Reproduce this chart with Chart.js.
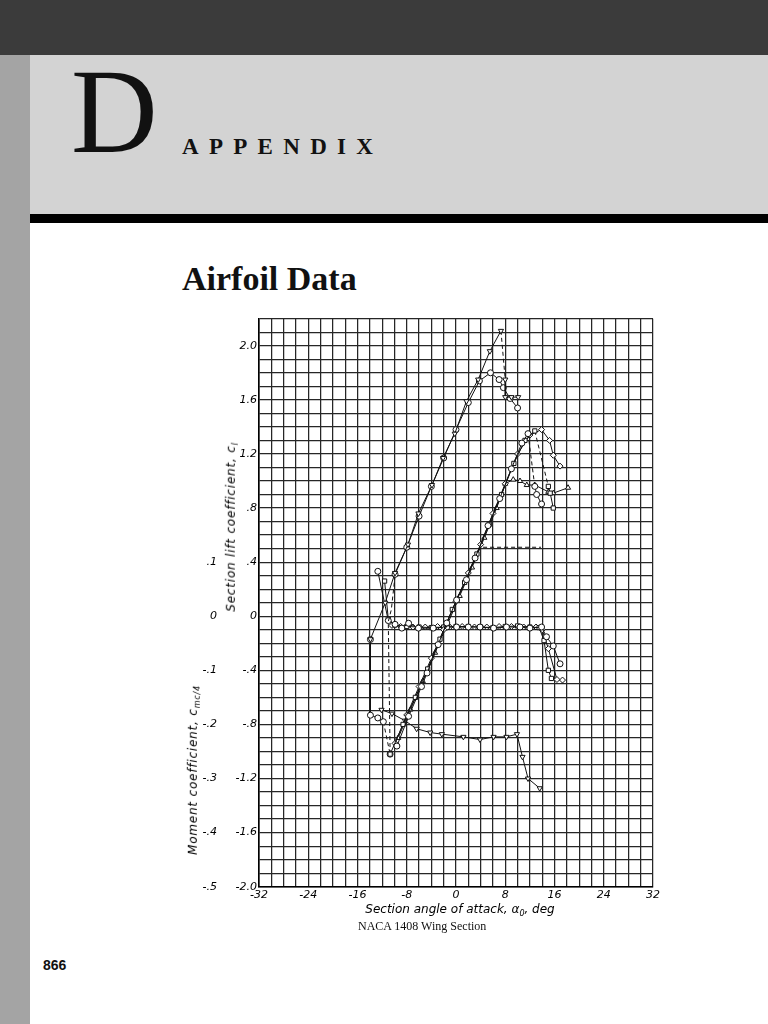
<!DOCTYPE html>
<html>
<head>
<meta charset="utf-8">
<script src="https://cdn.jsdelivr.net/npm/chart.js@4.4.0/dist/chart.umd.min.js"></script>
<style>
  body { margin: 0; width: 768px; height: 1024px; position: relative; overflow: hidden; background: #fff; }
  .abs { position: absolute; }
  .serif { font-family: "Liberation Serif", "DejaVu Serif", serif; color: #111; }
  .hand { font-family: "DejaVu Sans", sans-serif; font-style: italic; font-size: 12px; color: #000; white-space: nowrap; }
  .rot { transform: translate(-50%, -50%) rotate(-90deg); letter-spacing: 0.8px; }
  .ctr { transform: translate(-50%, -50%); }
  sub { font-size: 8px; }
</style>
</head>
<body>
<div class="abs" style="left:0;top:0;width:768px;height:55px;background:#3b3b3b"></div>
<div class="abs" style="left:0;top:55px;width:30px;height:969px;background:#a4a4a4"></div>
<div class="abs" style="left:30px;top:55px;width:738px;height:159px;background:#d3d3d3"></div>
<div class="abs" style="left:30px;top:214px;width:738px;height:9px;background:#000"></div>
<div class="abs serif" style="left:71px;top:52px;font-size:120px;line-height:120px">D</div>
<div class="abs serif" style="left:182px;top:135px;font-size:23px;line-height:23px;font-weight:bold;letter-spacing:10.3px">APPENDIX</div>
<div class="abs serif" style="left:182px;top:262px;font-size:34px;line-height:34px;font-weight:bold">Airfoil Data</div>

<div class="abs" style="left:180px;top:300px;width:500px;height:645px">
  <canvas id="chart"></canvas>
</div>

<div class="abs hand rot" style="left:232px;top:527px">Section lift coefficient, c<sub>l</sub></div>
<div class="abs hand rot" style="left:194px;top:770px">Moment coefficient, c<sub>mc/4</sub></div>
<div class="abs hand ctr" style="left:460px;top:910px">Section angle of attack, α<sub>0</sub>, deg</div>
<div class="abs serif" style="left:358px;top:920px;font-size:12px;line-height:12px">NACA 1408 Wing Section</div>
<div class="abs" style="left:43px;top:958px;font-family:'Liberation Sans',Arial,sans-serif;font-weight:bold;font-size:14px;line-height:14px;color:#111">866</div>

<script>
// tick labels
const xTickLabels = ['-32', '-24', '-16', '-8', '0', '8', '16', '24', '32'];
const liftTickLabels = ['2.0', '1.6', '1.2', '.8', '.4', '0', '-.4', '-.8', '-1.2', '-1.6', '-2.0'];
const momentTickLabels = ['.1', '0', '-.1', '-.2', '-.3', '-.4', '-.5'];

// section lift coefficient, plain section (three smooth runs + rough)
const liftAlphaA = [-9.6, -7.7, -5.6, -4.7, -2.9, -1.5, 0.1, 1.7, 3.1, 5.2, 7.1, 9.0, 10.7, 11.7, 12.8, 13.1, 13.9];
const liftA      = [-0.96, -0.74, -0.52, -0.42, -0.21, -0.05, 0.12, 0.27, 0.43, 0.67, 0.87, 1.09, 1.28, 1.35, 0.96, 0.90, 0.83];
const liftAlphaB = [-10.7, -8.6, -6.6, -4.6, -2.6, -0.6, 1.4, 3.4, 5.4, 7.4, 9.4, 11.2, 12.8, 15.0, 15.3, 15.8];
const liftB      = [-1.02, -0.80, -0.60, -0.39, -0.17, 0.05, 0.25, 0.46, 0.68, 0.90, 1.13, 1.30, 1.37, 0.96, 0.91, 0.80];
const liftAlphaC = [-9.9, -8.0, -6.0, -4.0, -2.0, 0.0, 2.0, 4.0, 6.0, 8.0, 10.0, 12.0, 13.9, 15.2, 15.8, 16.9];
const liftC      = [-0.94, -0.73, -0.52, -0.31, -0.10, 0.11, 0.32, 0.53, 0.76, 0.98, 1.20, 1.34, 1.38, 1.30, 1.19, 1.11];
const liftAlphaR = [-9.4, -7.4, -5.4, -3.4, -1.4, 0.6, 2.6, 4.6, 6.6, 8.0, 9.3, 10.4, 11.5, 12.8, 15.0, 15.8, 18.2];
const liftR      = [-0.90, -0.69, -0.48, -0.27, -0.06, 0.15, 0.36, 0.58, 0.80, 0.98, 1.01, 1.00, 0.97, 0.97, 0.92, 0.91, 0.95];

// lift with split flap deflected
const flapAlphaS = [-13.9, -11.5, -9.9, -7.8, -6.1, -3.9, -2.1, -0.2, 1.7, 3.6, 5.5, 7.3, 8.0, 8.0, 9.0, 10.1];
const flapLiftS  = [-0.17, 0.10, 0.32, 0.53, 0.76, 0.97, 1.17, 1.35, 1.59, 1.75, 1.96, 2.11, 1.75, 1.62, 1.62, 1.62];
const flapAlphaR = [-9.9, -8.0, -6.0, -4.0, -2.0, 0.0, 2.0, 3.8, 5.6, 7.0, 7.7, 8.8, 10.0];
const flapLiftR  = [0.31, 0.51, 0.74, 0.96, 1.17, 1.38, 1.58, 1.74, 1.80, 1.75, 1.69, 1.61, 1.54];

// stall links and reference line (lift scale)
const linkAlpha1 = [-9.9, -10.5, -11.0, -10.7];
const linkLift1  = [0.30, 0.05, -0.04, -1.02];
const refAlpha   = [4.4, 13.8];
const refLift    = [0.51, 0.51];

// moment coefficient about quarter chord, plain section
const momAlphaA = [-12.7, -11.0, -9.9, -8.8, -7.7, -6.1, -3.7, -1.5, 0.1, 2.0, 3.9, 6.1, 8.2, 10.4, 12.0, 13.9, 14.7, 15.8, 16.9];
const momA      = [0.083, -0.008, -0.015, -0.022, -0.013, -0.022, -0.022, -0.020, -0.020, -0.020, -0.020, -0.022, -0.020, -0.020, -0.022, -0.020, -0.038, -0.055, -0.088];
const momAlphaB = [-11.6, -11.0, -9.9, -8.0, -6.0, -4.0, -2.0, 0.0, 2.0, 4.0, 6.0, 8.0, 10.0, 12.0, 13.5, 14.3, 15.0, 15.5];
const momB      = [0.065, -0.005, -0.016, -0.019, -0.020, -0.021, -0.020, -0.019, -0.019, -0.020, -0.021, -0.019, -0.018, -0.020, -0.021, -0.045, -0.100, -0.115];
const momAlphaC = [-10.4, -9.0, -7.0, -5.0, -3.0, -1.0, 1.0, 3.0, 5.0, 7.0, 9.0, 11.0, 13.0, 14.0, 15.0, 16.4, 17.3];
const momC      = [-0.017, -0.019, -0.020, -0.020, -0.019, -0.020, -0.019, -0.020, -0.020, -0.019, -0.019, -0.020, -0.020, -0.025, -0.060, -0.117, -0.118];

// moment with flap deflected
const flapMomAlphaS = [-12.1, -10.4, -8.3, -6.4, -4.2, -2.3, 1.2, 3.9, 6.1, 8.2, 9.9, 10.8, 11.7, 13.6];
const flapMomS      = [-0.173, -0.180, -0.193, -0.208, -0.215, -0.218, -0.223, -0.228, -0.223, -0.223, -0.218, -0.260, -0.300, -0.318];
const flapMomAlphaR = [-13.9, -13.9, -12.7, -11.8, -10.7];
const flapMomR      = [-0.043, -0.183, -0.188, -0.195, -0.255];

const pts = (a, v) => a.map((x, i) => ({ x: x, y: v[i] }));
const dashAt = (k) => ({ borderDash: c => (c.p0DataIndex >= k[0] && c.p0DataIndex < k[1]) ? [4, 3] : undefined });

function series(a, v, style, opts) {
  return Object.assign({
    data: pts(a, v),
    showLine: true,
    borderColor: '#111',
    backgroundColor: '#fff',
    borderWidth: 1,
    pointStyle: style,
    pointRadius: 3,
    pointBorderWidth: 1,
    pointBorderColor: '#111',
    pointBackgroundColor: '#fff',
    tension: 0,
    yAxisID: 'y'
  }, opts || {});
}

const datasets = [
  series(liftAlphaA, liftA, 'circle', { segment: dashAt([13, 14]) }),
  series(liftAlphaB, liftB, 'rect', { segment: dashAt([12, 13]) }),
  series(liftAlphaC, liftC, 'rectRot'),
  series(liftAlphaR, liftR, 'triangle'),
  series(flapAlphaS, flapLiftS, 'triangle', { pointRotation: 180, segment: dashAt([11, 12]) }),
  series(flapAlphaR, flapLiftR, 'circle'),
  series(linkAlpha1, linkLift1, false, { pointRadius: 0, borderDash: [4, 3] }),
  series(refAlpha, refLift, false, { pointRadius: 0, borderDash: [4, 3] }),
  series(momAlphaA, momA, 'circle', { yAxisID: 'yM' }),
  series(momAlphaB, momB, 'rect', { yAxisID: 'yM' }),
  series(momAlphaC, momC, 'rectRot', { yAxisID: 'yM' }),
  series(flapMomAlphaS, flapMomS, 'triangle', { yAxisID: 'yM', pointRotation: 180 }),
  series(flapMomAlphaR, flapMomR, 'circle', { yAxisID: 'yM', segment: dashAt([3, 4]) })
];

const tickFont = { family: "'DejaVu Sans', sans-serif", style: 'italic', size: 11 };

new Chart(document.getElementById('chart'), {
  type: 'scatter',
  data: { datasets: datasets },
  options: {
    responsive: true,
    maintainAspectRatio: false,
    animation: false,
    layout: { padding: { top: 18.7, right: 27, left: 0, bottom: 0 } },
    plugins: { legend: { display: false }, tooltip: { enabled: false } },
    scales: {
      x: {
        type: 'linear',
        min: -32, max: 32,
        afterFit: s => { s.height = 58.3; },
        grid: { color: '#262626', lineWidth: 1.25, drawTicks: false },
        border: { color: '#000', width: 1.6 },
        ticks: {
          stepSize: 2, autoSkip: false, maxRotation: 0, padding: 2,
          color: '#000', font: tickFont,
          callback: v => (v % 8 === 0 ? xTickLabels[(v + 32) / 8] : '')
        }
      },
      y: {
        type: 'linear', position: 'left', weight: 0,
        min: -2.0, max: 2.2,
        afterFit: s => { s.width = 42; },
        grid: { color: '#262626', lineWidth: 1.25, drawTicks: false },
        border: { color: '#000', width: 1.6 },
        ticks: {
          stepSize: 0.1, autoSkip: false, padding: 2,
          color: '#000', font: tickFont,
          callback: v => {
            const k = Math.round(v * 10);
            return (k % 4 === 0 && k <= 20) ? liftTickLabels[(20 - k) / 4] : '';
          }
        }
      },
      yM: {
        type: 'linear', position: 'left', weight: 1,
        min: -0.5, max: 0.55,
        afterFit: s => { s.width = 37; },
        grid: { display: false, drawTicks: false },
        border: { display: false },
        ticks: {
          stepSize: 0.1, autoSkip: false, padding: 0,
          color: '#000', font: tickFont,
          callback: v => {
            const k = Math.round(v * 10);
            return (k <= 1 && k >= -5 && Math.abs(v * 10 - k) < 0.01) ? momentTickLabels[1 - k] : '';
          }
        }
      }
    }
  }
});
</script>
</body>
</html>
